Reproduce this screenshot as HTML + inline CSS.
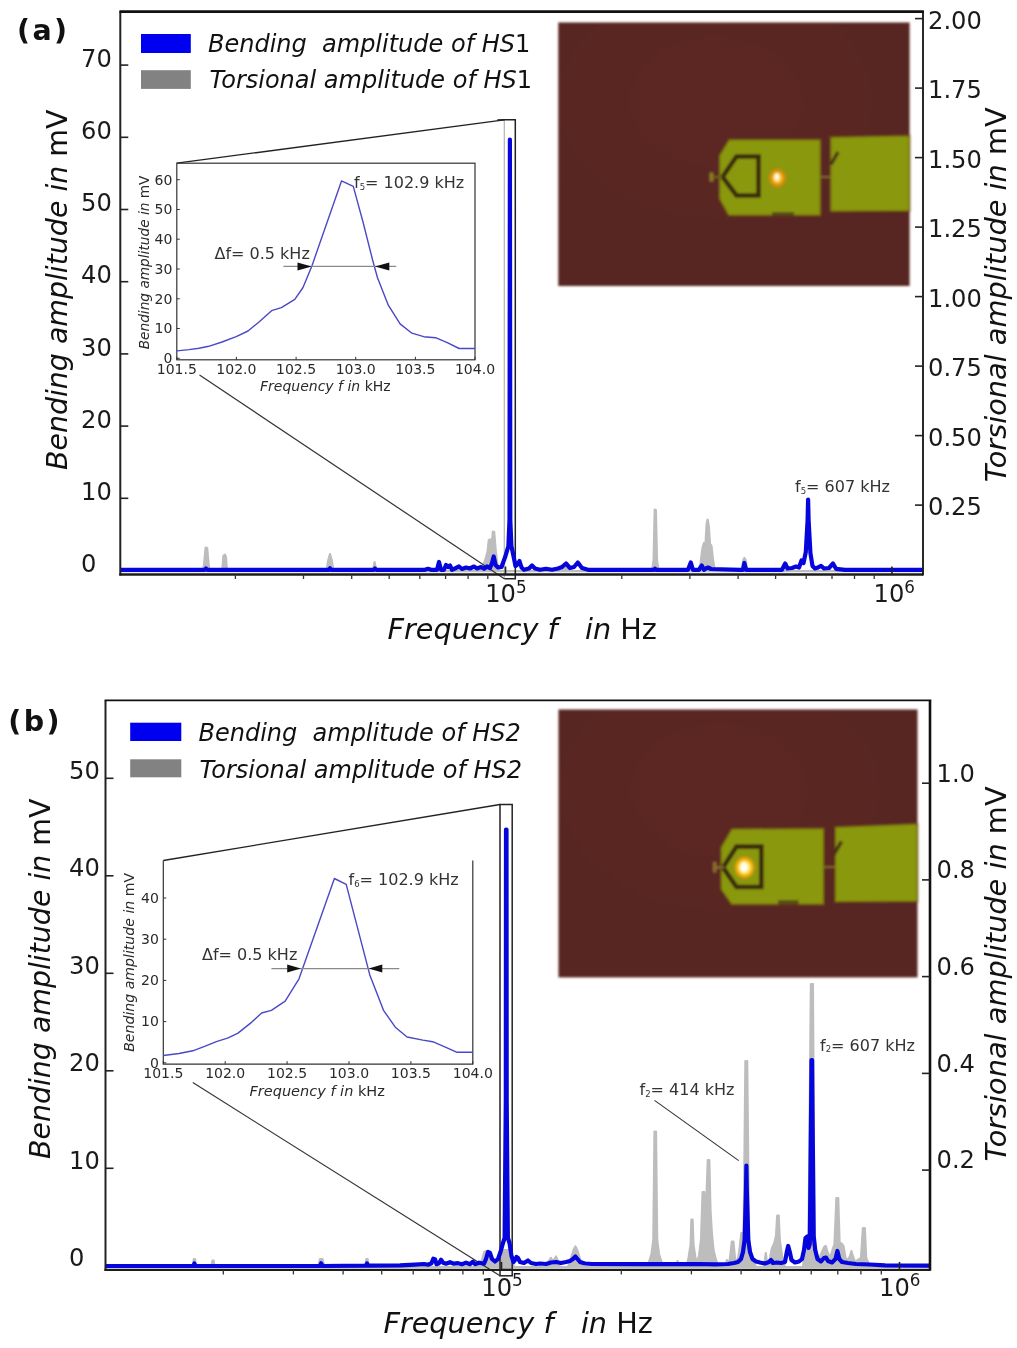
<!DOCTYPE html>
<html><head><meta charset="utf-8"><title>Figure</title>
<style>
html,body{margin:0;padding:0;background:#fff;}
svg{display:block;font-family:"DejaVu Sans","Liberation Sans",sans-serif;}
.i{font-style:italic;}
.b{font-weight:bold;}
.tk{font-size:24.2px;fill:#1a1a1a;}
.lab{fill:#111;}
.leg{font-size:24px;fill:#111;}
.ann{font-size:16px;fill:#333;}
.itk{font-size:14px;fill:#2a2a2a;}
.ilab{fill:#2a2a2a;}
</style></head><body>
<svg width="1017" height="1348" viewBox="0 0 1017 1348">
<defs>
<radialGradient id="glow"><stop offset="0" stop-color="#fff3b0"/><stop offset="0.28" stop-color="#ffd030"/><stop offset="0.55" stop-color="#ee9a10" stop-opacity="0.95"/><stop offset="0.8" stop-color="#c8860c" stop-opacity="0.6"/><stop offset="1" stop-color="#a88a0c" stop-opacity="0"/></radialGradient>
<radialGradient id="glowB"><stop offset="0" stop-color="#ffffe6"/><stop offset="0.3" stop-color="#fff49a"/><stop offset="0.5" stop-color="#ffd428"/><stop offset="0.72" stop-color="#eaa010" stop-opacity="0.9"/><stop offset="1" stop-color="#a88a0c" stop-opacity="0"/></radialGradient>
<radialGradient id="vig" cx="0.45" cy="0.3" r="0.8"><stop offset="0" stop-color="#5c2822"/><stop offset="1" stop-color="#582521"/></radialGradient>
<filter id="bl" x="-5%" y="-5%" width="110%" height="110%"><feGaussianBlur stdDeviation="1.1"/></filter>
</defs>
<rect width="1017" height="1348" fill="#fff"/>

<g filter="url(#bl)">
<rect x="558.3" y="22.5" width="351.30000000000007" height="263.5" fill="url(#vig)"/>
<path d="M719.3,155.5 L729,139.5 L820.6,139.5 L820.6,215.5 L728.5,215.5 L719.3,199 Z" fill="#8a980c"/>
<path d="M830.4,137 L909.6,135.5 L909.6,211 L830.4,211.5 Z" fill="#8a980c"/>
<path d="M830.4,137 L909.6,135.5 L909.6,211 L830.4,211.5 Z M719.3,155.5 L729,139.5 L820.6,139.5 L820.6,215.5 L728.5,215.5 L719.3,199 Z" fill="none" stroke="#6a4a14" stroke-width="2" stroke-opacity="0.6"/>
<path d="M722.5,177 L736.5,156.5 L758.5,156.5 L758.5,195.5 L736.5,195.5 Z" fill="none" stroke="#3a2c10" stroke-width="4.6" stroke-linejoin="miter"/>
<rect x="709.5" y="172.5" width="4" height="9" fill="#8a7a20"/>
<line x1="713" y1="177" x2="722" y2="177" stroke="#6a6418" stroke-width="2"/>
<path d="M838,152 L831,164.5" stroke="#4a3016" stroke-width="3.5"/>
<rect x="772" y="212" width="22" height="4" fill="#4a3016" opacity="0.7"/>
<rect x="820" y="176" width="11" height="2" fill="#8a8030" opacity="0.7"/>
<ellipse cx="777.3" cy="178" rx="10.5" ry="11.5" fill="url(#glow)"/>
<ellipse cx="776.8" cy="177" rx="2.4" ry="3.8" fill="#fffbe0"/>
</g>
<path d="M120.5,571.2 L203.2,571.2 L204.5,560.0 L205.6,547.5 L207.2,548.0 L208.3,561.0 L209.5,571.2 L222.3,571.2 L223.4,556.0 L224.8,554.6 L226.0,557.0 L227.0,571.2 L326.5,571.2 L328.3,560.0 L330.0,554.0 L331.7,560.0 L333.5,571.2 L372.8,571.2 L374.6,562.0 L376.4,571.2 L480.0,571.2 L483.0,566.0 L485.5,559.0 L487.5,552.0 L488.8,540.0 L490.5,539.5 L491.8,545.0 L492.8,531.5 L494.2,532.0 L495.5,548.0 L497.0,562.0 L499.0,571.2 L560.0,571.2 L566.0,566.0 L572.0,571.2 L652.0,571.2 L653.6,560.0 L654.7,509.5 L655.9,510.0 L657.0,560.0 L658.6,571.2 L698.0,571.2 L700.5,564.0 L702.5,548.0 L704.0,543.0 L705.5,544.0 L706.6,524.0 L707.6,519.5 L708.8,526.0 L710.0,544.0 L711.5,546.0 L713.0,560.0 L715.0,571.2 L741.5,571.2 L743.3,560.0 L744.4,558.0 L745.6,560.0 L747.3,571.2 L922.5,571.2 Z" fill="#bdbdbd" stroke="#bdbdbd" stroke-width="2.2" stroke-linejoin="round"/>
<line x1="504.3" y1="119.8" x2="504.3" y2="578.8" stroke="#b4b4b0" stroke-width="1.2"/>
<path d="M497.3,120.1 L504.3,119.8 L515.3,119.8 L515.3,578.8 L504.3,578.8" fill="none" stroke="#222" stroke-width="1.5"/>
<line x1="176.8" y1="163.2" x2="504.3" y2="119.8" stroke="#222" stroke-width="1.3"/>
<line x1="199.5" y1="375.0" x2="504.3" y2="578.8" stroke="#333" stroke-width="1.2"/>
<g stroke="#0606dc" stroke-width="4.2" fill="none" stroke-linejoin="round" stroke-linecap="butt">
<path d="M120.5,569.8 L205.0,569.8 L206.0,568.5 L207.0,569.8 L329.0,569.8 L330.0,568.3 L331.0,569.8 L374.0,569.8 L375.0,568.5 L376.0,569.8 L425.0,569.8 L428.0,568.8 L431.0,569.8 L437.0,569.8 L439.0,562.0 L441.0,569.8 L444.0,569.8 L446.0,565.0 L448.0,567.0 L450.0,565.5 L452.0,569.8 L456.0,568.0 L459.0,566.5 L462.0,569.0 L466.0,567.5 L470.0,568.5 L474.0,566.5 L477.0,568.5 L481.0,567.0 L484.0,568.8 L487.0,566.5 L490.0,568.0 L492.0,563.0 L493.7,556.5 L495.5,565.0 L498.0,567.5 L501.5,567.0 L505.5,556.0 L508.4,546.0 L509.5,520.0 L509.9,139.5 L510.3,520.0 L511.4,546.0 L513.5,556.0 L515.5,566.0 L517.0,565.0 L519.5,561.0 L521.5,567.5 L524.0,569.8 L529.0,568.5 L532.0,565.5 L535.0,568.5 L540.0,569.8 L546.0,568.8 L552.0,569.8 L558.0,568.5 L562.0,567.0 L566.0,563.5 L570.0,568.0 L574.0,567.0 L577.8,562.5 L582.0,568.0 L588.0,569.8 L620.0,569.8 L654.0,569.8 L655.0,568.8 L656.0,569.8 L688.0,569.8 L690.8,562.5 L693.0,569.8 L699.0,569.8 L701.7,565.5 L704.0,569.8 L706.0,568.5 L708.0,567.5 L711.0,569.0 L740.0,569.8 L743.0,569.8 L744.4,563.0 L746.0,569.8 L782.0,569.8 L785.2,563.5 L787.5,568.5 L792.0,568.0 L796.0,566.5 L799.0,567.5 L801.5,560.5 L803.5,563.0 L805.8,552.0 L807.6,520.0 L808.1,499.5 L808.6,520.0 L810.4,553.0 L812.5,566.0 L815.0,568.5 L818.0,567.5 L821.0,565.8 L824.0,568.5 L829.0,568.0 L833.0,563.5 L836.0,568.8 L845.0,569.8 L922.5,569.8" fill="none" />
</g>
<line x1="120.3" y1="11.6" x2="120.3" y2="575.6" stroke="#222" stroke-width="2"/>
<line x1="119.3" y1="574.5" x2="923" y2="574.5" stroke="#1c1c1c" stroke-width="2.3"/>
<line x1="119.39999999999999" y1="11.6" x2="923.9" y2="11.6" stroke="#111" stroke-width="2.8"/>
<line x1="923" y1="11.6" x2="923" y2="575.4" stroke="#111" stroke-width="1.8"/>
<line x1="120.3" y1="498.3" x2="128.3" y2="498.3" stroke="#222" stroke-width="1.6"/>
<line x1="120.3" y1="426.1" x2="128.3" y2="426.1" stroke="#222" stroke-width="1.6"/>
<line x1="120.3" y1="353.9" x2="128.3" y2="353.9" stroke="#222" stroke-width="1.6"/>
<line x1="120.3" y1="281.7" x2="128.3" y2="281.7" stroke="#222" stroke-width="1.6"/>
<line x1="120.3" y1="209.5" x2="128.3" y2="209.5" stroke="#222" stroke-width="1.6"/>
<line x1="120.3" y1="137.3" x2="128.3" y2="137.3" stroke="#222" stroke-width="1.6"/>
<line x1="120.3" y1="65.1" x2="128.3" y2="65.1" stroke="#222" stroke-width="1.6"/>
<line x1="915" y1="505.1" x2="923" y2="505.1" stroke="#222" stroke-width="1.6"/>
<line x1="915" y1="435.6" x2="923" y2="435.6" stroke="#222" stroke-width="1.6"/>
<line x1="915" y1="366.1" x2="923" y2="366.1" stroke="#222" stroke-width="1.6"/>
<line x1="915" y1="296.6" x2="923" y2="296.6" stroke="#222" stroke-width="1.6"/>
<line x1="915" y1="227.1" x2="923" y2="227.1" stroke="#222" stroke-width="1.6"/>
<line x1="915" y1="157.6" x2="923" y2="157.6" stroke="#222" stroke-width="1.6"/>
<line x1="915" y1="88.1" x2="923" y2="88.1" stroke="#222" stroke-width="1.6"/>
<line x1="915" y1="18.6" x2="923" y2="18.6" stroke="#222" stroke-width="1.6"/>
<line x1="235.4" y1="574.5" x2="235.4" y2="579.0" stroke="#333" stroke-width="1.3"/>
<line x1="621.8" y1="574.5" x2="621.8" y2="579.0" stroke="#333" stroke-width="1.3"/>
<line x1="303.5" y1="574.5" x2="303.5" y2="579.0" stroke="#333" stroke-width="1.3"/>
<line x1="689.9" y1="574.5" x2="689.9" y2="579.0" stroke="#333" stroke-width="1.3"/>
<line x1="351.7" y1="574.5" x2="351.7" y2="579.0" stroke="#333" stroke-width="1.3"/>
<line x1="738.1" y1="574.5" x2="738.1" y2="579.0" stroke="#333" stroke-width="1.3"/>
<line x1="389.2" y1="574.5" x2="389.2" y2="579.0" stroke="#333" stroke-width="1.3"/>
<line x1="775.6" y1="574.5" x2="775.6" y2="579.0" stroke="#333" stroke-width="1.3"/>
<line x1="419.8" y1="574.5" x2="419.8" y2="579.0" stroke="#333" stroke-width="1.3"/>
<line x1="806.2" y1="574.5" x2="806.2" y2="579.0" stroke="#333" stroke-width="1.3"/>
<line x1="445.6" y1="574.5" x2="445.6" y2="579.0" stroke="#333" stroke-width="1.3"/>
<line x1="832.0" y1="574.5" x2="832.0" y2="579.0" stroke="#333" stroke-width="1.3"/>
<line x1="468.1" y1="574.5" x2="468.1" y2="579.0" stroke="#333" stroke-width="1.3"/>
<line x1="854.5" y1="574.5" x2="854.5" y2="579.0" stroke="#333" stroke-width="1.3"/>
<line x1="487.8" y1="574.5" x2="487.8" y2="579.0" stroke="#333" stroke-width="1.3"/>
<line x1="874.2" y1="574.5" x2="874.2" y2="579.0" stroke="#333" stroke-width="1.3"/>
<line x1="505.5" y1="574.5" x2="505.5" y2="566.5" stroke="#222" stroke-width="1.6"/>
<line x1="891.9" y1="574.5" x2="891.9" y2="566.5" stroke="#222" stroke-width="1.6"/>
<text class="tk" x="81" y="571.7">0</text>
<text class="tk" x="81" y="499.9">10</text>
<text class="tk" x="81" y="427.7">20</text>
<text class="tk" x="81" y="355.5">30</text>
<text class="tk" x="81" y="283.3">40</text>
<text class="tk" x="81" y="211.1">50</text>
<text class="tk" x="81" y="138.9">60</text>
<text class="tk" x="81" y="66.7">70</text>
<text class="tk" x="928" y="515.3">0.25</text>
<text class="tk" x="928" y="445.8">0.50</text>
<text class="tk" x="928" y="376.3">0.75</text>
<text class="tk" x="928" y="306.8">1.00</text>
<text class="tk" x="928" y="237.3">1.25</text>
<text class="tk" x="928" y="167.8">1.50</text>
<text class="tk" x="928" y="98.3">1.75</text>
<text class="tk" x="928" y="28.8">2.00</text>
<text class="tk" x="485.2" y="602">10<tspan font-size="16.8px" dy="-9.5" dx="0">5</tspan></text>
<text class="tk" x="873.5" y="602">10<tspan font-size="16.8px" dy="-9.5" dx="0">6</tspan></text>
<text class="lab i" font-size="28.7px" x="387.5" y="638.5" xml:space="preserve">Frequency f   in <tspan font-style="normal">Hz</tspan></text>
<text class="lab i" font-size="28.4px" transform="translate(66.5,470) rotate(-90)">Bending amplitude in <tspan font-style="normal">mV</tspan></text>
<text class="lab i" font-size="28.8px" transform="translate(1006.3,482.3) rotate(-90)">Torsional amplitude in <tspan font-style="normal">mV</tspan></text>
<text class="b" font-size="28.5px" letter-spacing="2.4" fill="#111" x="17" y="39.5">(a)</text>
<rect x="141" y="34" width="49.80000000000001" height="19" fill="#0000f0"/>
<rect x="141" y="70.2" width="49.80000000000001" height="18.700000000000003" fill="#828282"/>
<text class="leg i" x="208" y="52.2" xml:space="preserve">Bending  amplitude of HS<tspan font-style="normal">1</tspan></text>
<text class="leg i" x="209.5" y="88.1">Torsional amplitude of HS<tspan font-style="normal">1</tspan></text>
<g>
<rect x="176.8" y="163.2" width="298.2" height="196.60000000000002" fill="none" stroke="#333" stroke-width="1.2"/>
<path d="M176.8,350.9 L189.0,349.6 L199.0,348.2 L208.7,346.3 L222.0,342.0 L236.2,336.7 L248.0,331.0 L259.0,322.0 L271.6,310.7 L281.4,307.6 L294.8,299.3 L303.0,287.5 L311.9,265.9 L341.5,180.9 L353.3,186.4 L363.0,222.0 L372.6,260.0 L377.5,277.7 L388.3,305.2 L400.1,323.9 L411.9,333.2 L423.7,336.7 L435.5,337.7 L447.3,342.6 L459.1,348.5 L475.0,348.5" fill="none" stroke="#4a48c4" stroke-width="1.4" stroke-linejoin="round"/>
<line x1="176.8" y1="358.3" x2="179.8" y2="358.3" stroke="#333" stroke-width="1"/>
<text class="itk" text-anchor="end" x="172.3" y="363.1">0</text>
<line x1="176.8" y1="328.5" x2="179.8" y2="328.5" stroke="#333" stroke-width="1"/>
<text class="itk" text-anchor="end" x="172.3" y="333.3">10</text>
<line x1="176.8" y1="298.8" x2="179.8" y2="298.8" stroke="#333" stroke-width="1"/>
<text class="itk" text-anchor="end" x="172.3" y="303.6">20</text>
<line x1="176.8" y1="269.0" x2="179.8" y2="269.0" stroke="#333" stroke-width="1"/>
<text class="itk" text-anchor="end" x="172.3" y="273.8">30</text>
<line x1="176.8" y1="239.2" x2="179.8" y2="239.2" stroke="#333" stroke-width="1"/>
<text class="itk" text-anchor="end" x="172.3" y="244.0">40</text>
<line x1="176.8" y1="209.5" x2="179.8" y2="209.5" stroke="#333" stroke-width="1"/>
<text class="itk" text-anchor="end" x="172.3" y="214.3">50</text>
<line x1="176.8" y1="179.7" x2="179.8" y2="179.7" stroke="#333" stroke-width="1"/>
<text class="itk" text-anchor="end" x="172.3" y="184.5">60</text>
<line x1="176.8" y1="359.8" x2="176.8" y2="356.8" stroke="#333" stroke-width="1"/>
<text class="itk" text-anchor="middle" x="176.8" y="373.6">101.5</text>
<line x1="236.4" y1="359.8" x2="236.4" y2="356.8" stroke="#333" stroke-width="1"/>
<text class="itk" text-anchor="middle" x="236.4" y="373.6">102.0</text>
<line x1="296.1" y1="359.8" x2="296.1" y2="356.8" stroke="#333" stroke-width="1"/>
<text class="itk" text-anchor="middle" x="296.1" y="373.6">102.5</text>
<line x1="355.7" y1="359.8" x2="355.7" y2="356.8" stroke="#333" stroke-width="1"/>
<text class="itk" text-anchor="middle" x="355.7" y="373.6">103.0</text>
<line x1="415.4" y1="359.8" x2="415.4" y2="356.8" stroke="#333" stroke-width="1"/>
<text class="itk" text-anchor="middle" x="415.4" y="373.6">103.5</text>
<line x1="475.0" y1="359.8" x2="475.0" y2="356.8" stroke="#333" stroke-width="1"/>
<text class="itk" text-anchor="middle" x="475.0" y="373.6">104.0</text>
<text class="ilab i" font-size="14.0px" x="260" y="390.8">Frequency f in <tspan font-style="normal">kHz</tspan></text>
<text class="i" font-size="13.7px" fill="#2a2a2a" transform="translate(148.5,349.3) rotate(-90)">Bending amplitude in <tspan font-style="normal">mV</tspan></text>
<line x1="283.4" y1="266.4" x2="396.2" y2="266.4" stroke="#8a8a8a" stroke-width="1.1"/>
<path d="M311.7,266.4 L297.5,262.4 L297.5,270.4 Z M375,266.4 L389.3,262.4 L389.3,270.4 Z" fill="#111"/>
<text class="ann" x="354" y="188.3">f<tspan font-size="8.5px" dy="1.5">5</tspan><tspan dy="-1.5">= </tspan>102.9 kHz</text>
<text class="ann" x="214.5" y="258.8">Δf= 0.5 kHz</text>
<text class="ann" x="795" y="492.3">f<tspan font-size="8.5px" dy="1.5">5</tspan><tspan dy="-1.5">= </tspan>607 kHz</text>
</g>
<g filter="url(#bl)">
<rect x="558.5" y="709.5" width="359.0" height="267.9" fill="url(#vig)"/>
<path d="M720.8,847.5 L731.7,828.8 L823.9,828.3 L823.9,904.5 L731.5,904.5 L720.8,889.3 Z" fill="#8a980c"/>
<path d="M835,827 L917.5,823.7 L917.5,901.5 L835,902 Z" fill="#8a980c"/>
<path d="M835,827 L917.5,823.7 L917.5,901.5 L835,902 Z M720.8,847.5 L731.7,828.8 L823.9,828.3 L823.9,904.5 L731.5,904.5 L720.8,889.3 Z" fill="none" stroke="#6a4a14" stroke-width="2" stroke-opacity="0.6"/>
<path d="M723,867.4 L736.5,846.6 L761.3,846.6 L761.3,887 L736.5,887 Z" fill="none" stroke="#3a2c10" stroke-width="4.6"/>
<rect x="713" y="862" width="3.5" height="10.5" fill="#8a6a30"/>
<line x1="716" y1="867.4" x2="724" y2="867.4" stroke="#8a7a30" stroke-width="2"/>
<path d="M841.5,841.5 L833.5,855" stroke="#4a3016" stroke-width="3.5"/>
<rect x="778" y="900" width="20.5" height="5" fill="#4a3016" opacity="0.7"/>
<rect x="823.5" y="866" width="12" height="2" fill="#8a8030" opacity="0.7"/>
<ellipse cx="744.6" cy="867.5" rx="12" ry="13" fill="url(#glowB)"/>
<ellipse cx="743.9" cy="867.2" rx="3.6" ry="5" fill="#fffdf0"/>
</g>
<path d="M105.5,1267.0 L193.0,1267.0 L193.8,1259.0 L195.0,1259.0 L195.8,1267.0 L211.5,1267.0 L212.4,1260.5 L213.6,1260.5 L214.5,1267.0 L318.0,1267.0 L320.0,1259.0 L322.4,1259.0 L324.5,1267.0 L365.5,1267.0 L366.4,1259.0 L367.6,1259.0 L368.5,1267.0 L478.0,1267.0 L482.0,1260.0 L484.3,1252.0 L486.5,1251.0 L488.0,1257.0 L496.0,1262.0 L500.0,1258.0 L503.0,1250.0 L509.0,1250.0 L512.0,1258.0 L514.0,1267.0 L546.0,1267.0 L549.5,1260.0 L551.0,1258.0 L552.5,1261.0 L554.5,1259.0 L556.0,1256.5 L557.5,1260.0 L560.0,1267.0 L568.0,1267.0 L571.0,1258.0 L573.5,1250.0 L575.4,1246.5 L577.3,1250.0 L580.0,1259.0 L583.0,1267.0 L645.0,1267.0 L649.0,1262.0 L651.5,1254.0 L653.3,1240.0 L654.5,1131.5 L656.0,1131.5 L657.2,1240.0 L659.0,1254.0 L661.5,1262.0 L664.0,1267.0 L676.0,1267.0 L677.5,1261.0 L679.0,1267.0 L686.5,1267.0 L688.5,1258.0 L690.6,1245.0 L691.4,1219.5 L692.6,1219.5 L693.5,1245.0 L695.5,1258.0 L697.0,1262.0 L699.0,1256.0 L701.0,1240.0 L702.6,1192.0 L704.2,1192.0 L705.3,1215.0 L706.3,1200.0 L707.8,1160.0 L709.3,1160.0 L710.5,1210.0 L711.8,1232.0 L713.5,1250.0 L716.0,1260.0 L719.0,1267.0 L725.0,1267.0 L727.0,1260.0 L728.5,1267.0 L730.0,1258.0 L731.8,1241.5 L733.4,1241.5 L735.0,1258.0 L737.5,1262.0 L739.5,1250.0 L741.3,1233.0 L742.6,1233.0 L743.6,1240.0 L745.4,1061.0 L747.2,1061.0 L749.0,1240.0 L752.0,1258.0 L756.0,1267.0 L764.0,1267.0 L765.8,1253.0 L767.5,1267.0 L770.0,1258.0 L772.0,1248.0 L774.0,1244.0 L776.0,1236.0 L777.2,1215.5 L778.7,1215.5 L779.8,1240.0 L782.0,1256.0 L785.0,1267.0 L803.0,1267.0 L806.0,1240.0 L808.5,1236.0 L810.9,984.0 L812.9,984.0 L814.5,1240.0 L817.0,1256.0 L819.5,1258.0 L822.0,1252.0 L824.2,1247.0 L825.8,1246.0 L827.5,1252.0 L830.0,1258.0 L832.5,1250.0 L834.5,1244.0 L836.4,1198.0 L838.2,1198.0 L839.6,1242.0 L841.4,1243.5 L843.5,1246.0 L845.5,1258.0 L848.0,1260.0 L850.0,1256.0 L851.4,1251.0 L852.8,1256.0 L855.0,1262.0 L858.0,1260.0 L861.0,1258.0 L862.9,1228.0 L864.8,1228.0 L866.2,1258.0 L868.0,1262.0 L871.0,1267.0 L930.0,1267.0 Z" fill="#bdbdbd" stroke="#bdbdbd" stroke-width="2.2" stroke-linejoin="round"/>
<path d="M500.6,1269 L500.6,1258 L503,1251 L509.5,1251 L511.6,1258 L511.6,1269 Z" fill="#b9b9b9"/>
<rect x="500" y="804.5" width="12.200000000000045" height="471.29999999999995" fill="none" stroke="#222" stroke-width="1.5"/>
<line x1="163.3" y1="860.5" x2="500" y2="804.5" stroke="#222" stroke-width="1.3"/>
<line x1="192.8" y1="1082.6" x2="500" y2="1275.8" stroke="#333" stroke-width="1.2"/>
<g stroke="#0606dc" stroke-width="4.2" fill="none" stroke-linejoin="round" stroke-linecap="butt">
<path d="M105.5,1266.0 L193.5,1266.0 L194.4,1263.5 L195.3,1266.0 L320.0,1266.0 L321.2,1263.3 L322.5,1266.0 L366.0,1265.6 L367.0,1263.5 L368.0,1265.6 L400.0,1265.4 L415.0,1264.6 L424.0,1264.0 L428.0,1264.7 L431.5,1263.2 L433.3,1258.7 L435.0,1259.2 L436.5,1264.2 L439.0,1263.2 L441.0,1259.7 L443.0,1262.7 L446.0,1263.7 L450.0,1262.2 L454.0,1263.7 L458.0,1263.2 L462.0,1264.2 L466.0,1262.7 L470.0,1264.2 L473.0,1261.7 L475.0,1264.2 L479.0,1262.7 L482.0,1263.2 L484.0,1263.7 L486.0,1259.0 L488.0,1252.0 L490.0,1253.0 L492.0,1259.0 L495.0,1261.5 L498.0,1259.0 L500.5,1252.0 L503.0,1243.0 L504.6,1238.0 L505.8,1100.0 L506.0,829.5 L506.5,829.5 L506.7,1100.0 L507.9,1238.0 L509.5,1243.0 L511.5,1256.0 L513.5,1262.0 L515.0,1260.0 L516.5,1257.0 L518.0,1258.0 L520.0,1262.0 L524.0,1263.0 L528.0,1260.5 L531.0,1263.0 L536.0,1264.0 L540.0,1263.5 L546.0,1264.0 L551.0,1262.5 L556.0,1262.0 L561.0,1263.0 L566.0,1262.0 L570.0,1261.0 L573.0,1259.0 L575.4,1256.5 L577.5,1259.0 L580.0,1262.0 L585.0,1263.5 L592.0,1264.0 L640.0,1264.2 L690.0,1264.2 L700.0,1264.0 L715.0,1264.3 L728.0,1264.0 L734.0,1263.0 L738.0,1262.0 L741.0,1259.0 L743.0,1252.0 L744.6,1240.0 L746.0,1190.0 L746.4,1165.5 L746.8,1190.0 L748.3,1240.0 L750.0,1252.0 L752.5,1259.0 L756.0,1261.5 L760.0,1262.5 L765.0,1263.5 L769.0,1262.0 L771.0,1260.0 L773.0,1263.0 L777.0,1262.5 L781.0,1263.0 L785.0,1262.0 L786.8,1252.0 L788.2,1246.0 L789.8,1252.0 L791.5,1260.0 L795.0,1262.5 L799.0,1261.5 L802.0,1259.0 L804.0,1250.0 L805.5,1238.0 L807.2,1236.5 L808.6,1248.0 L809.8,1244.0 L811.2,1100.0 L811.5,1060.0 L812.1,1060.0 L812.4,1100.0 L813.7,1236.0 L815.2,1250.0 L817.5,1259.0 L821.0,1261.5 L824.0,1258.0 L826.0,1257.5 L828.0,1261.0 L832.0,1262.5 L835.5,1259.0 L837.4,1251.0 L839.3,1259.0 L842.0,1262.0 L848.0,1263.0 L856.0,1264.0 L870.0,1264.5 L885.0,1265.3 L930.0,1265.6" fill="none" />
</g>
<line x1="105.5" y1="700.4" x2="105.5" y2="1271.0" stroke="#222" stroke-width="2"/>
<line x1="104.5" y1="1269.9" x2="930" y2="1269.9" stroke="#1c1c1c" stroke-width="2.3"/>
<line x1="104.6" y1="700.4" x2="931.3" y2="700.4" stroke="#111" stroke-width="1.7"/>
<line x1="930" y1="700.4" x2="930" y2="1270.8000000000002" stroke="#111" stroke-width="2.6"/>
<line x1="105.5" y1="1168.3" x2="113.5" y2="1168.3" stroke="#222" stroke-width="1.6"/>
<line x1="105.5" y1="1070.8" x2="113.5" y2="1070.8" stroke="#222" stroke-width="1.6"/>
<line x1="105.5" y1="973.3" x2="113.5" y2="973.3" stroke="#222" stroke-width="1.6"/>
<line x1="105.5" y1="875.8" x2="113.5" y2="875.8" stroke="#222" stroke-width="1.6"/>
<line x1="105.5" y1="778.3" x2="113.5" y2="778.3" stroke="#222" stroke-width="1.6"/>
<line x1="922" y1="1170.1" x2="930" y2="1170.1" stroke="#222" stroke-width="1.6"/>
<line x1="922" y1="1073.4" x2="930" y2="1073.4" stroke="#222" stroke-width="1.6"/>
<line x1="922" y1="976.6" x2="930" y2="976.6" stroke="#222" stroke-width="1.6"/>
<line x1="922" y1="879.9" x2="930" y2="879.9" stroke="#222" stroke-width="1.6"/>
<line x1="922" y1="783.2" x2="930" y2="783.2" stroke="#222" stroke-width="1.6"/>
<line x1="223.3" y1="1269.9" x2="223.3" y2="1274.4" stroke="#333" stroke-width="1.3"/>
<line x1="621.3" y1="1269.9" x2="621.3" y2="1274.4" stroke="#333" stroke-width="1.3"/>
<line x1="293.4" y1="1269.9" x2="293.4" y2="1274.4" stroke="#333" stroke-width="1.3"/>
<line x1="691.4" y1="1269.9" x2="691.4" y2="1274.4" stroke="#333" stroke-width="1.3"/>
<line x1="343.1" y1="1269.9" x2="343.1" y2="1274.4" stroke="#333" stroke-width="1.3"/>
<line x1="741.1" y1="1269.9" x2="741.1" y2="1274.4" stroke="#333" stroke-width="1.3"/>
<line x1="381.7" y1="1269.9" x2="381.7" y2="1274.4" stroke="#333" stroke-width="1.3"/>
<line x1="779.7" y1="1269.9" x2="779.7" y2="1274.4" stroke="#333" stroke-width="1.3"/>
<line x1="413.2" y1="1269.9" x2="413.2" y2="1274.4" stroke="#333" stroke-width="1.3"/>
<line x1="811.2" y1="1269.9" x2="811.2" y2="1274.4" stroke="#333" stroke-width="1.3"/>
<line x1="439.8" y1="1269.9" x2="439.8" y2="1274.4" stroke="#333" stroke-width="1.3"/>
<line x1="837.8" y1="1269.9" x2="837.8" y2="1274.4" stroke="#333" stroke-width="1.3"/>
<line x1="462.9" y1="1269.9" x2="462.9" y2="1274.4" stroke="#333" stroke-width="1.3"/>
<line x1="860.9" y1="1269.9" x2="860.9" y2="1274.4" stroke="#333" stroke-width="1.3"/>
<line x1="483.3" y1="1269.9" x2="483.3" y2="1274.4" stroke="#333" stroke-width="1.3"/>
<line x1="881.3" y1="1269.9" x2="881.3" y2="1274.4" stroke="#333" stroke-width="1.3"/>
<line x1="501.5" y1="1269.9" x2="501.5" y2="1261.9" stroke="#222" stroke-width="1.6"/>
<line x1="899.5" y1="1269.9" x2="899.5" y2="1261.9" stroke="#222" stroke-width="1.6"/>
<text class="tk" x="69" y="1266">0</text>
<text class="tk" x="69" y="1168.9">10</text>
<text class="tk" x="69" y="1071.4">20</text>
<text class="tk" x="69" y="973.9">30</text>
<text class="tk" x="69" y="876.4">40</text>
<text class="tk" x="69" y="778.9">50</text>
<text class="tk" x="936.5" y="1168.4">0.2</text>
<text class="tk" x="936.5" y="1071.7">0.4</text>
<text class="tk" x="936.5" y="974.9">0.6</text>
<text class="tk" x="936.5" y="878.2">0.8</text>
<text class="tk" x="936.5" y="781.5">1.0</text>
<text class="tk" x="481.3" y="1295.5">10<tspan font-size="16.8px" dy="-9.5" dx="0">5</tspan></text>
<text class="tk" x="879" y="1295.5">10<tspan font-size="16.8px" dy="-9.5" dx="0">6</tspan></text>
<text class="lab i" font-size="28.7px" x="383.4" y="1333" xml:space="preserve">Frequency f   in <tspan font-style="normal">Hz</tspan></text>
<text class="lab i" font-size="28.4px" transform="translate(49.9,1159) rotate(-90)">Bending amplitude in <tspan font-style="normal">mV</tspan></text>
<text class="lab i" font-size="28.8px" transform="translate(1005.7,1161.4) rotate(-90)">Torsional amplitude in <tspan font-style="normal">mV</tspan></text>
<text class="b" font-size="28.5px" letter-spacing="2.4" fill="#111" x="8.3" y="730.5">(b)</text>
<rect x="130.2" y="722.7" width="51.10000000000002" height="18.299999999999955" fill="#0000f0"/>
<rect x="130.2" y="759.3" width="51.10000000000002" height="18.0" fill="#828282"/>
<text class="leg i" x="198.5" y="741.3" xml:space="preserve">Bending  amplitude of HS2</text>
<text class="leg i" x="199.5" y="777.7">Torsional amplitude of HS2</text>
<g>
<path d="M163.3,860.5 L163.3,1064.1 L472.8,1064.1 L472.8,860.5" fill="none" stroke="#333" stroke-width="1.2"/>
<path d="M163.3,1055.5 L179.0,1053.5 L192.8,1050.8 L204.6,1046.4 L216.4,1041.7 L228.2,1037.8 L238.0,1033.1 L251.8,1022.1 L261.6,1013.0 L271.4,1010.3 L285.2,1001.2 L299.0,978.8 L334.4,878.5 L346.2,884.4 L369.8,974.9 L383.5,1010.3 L395.3,1027.2 L407.1,1037.0 L422.9,1040.1 L432.7,1041.7 L446.5,1047.6 L457.1,1052.3 L472.8,1052.3" fill="none" stroke="#4a48c4" stroke-width="1.4" stroke-linejoin="round"/>
<line x1="163.3" y1="1062.8" x2="166.3" y2="1062.8" stroke="#333" stroke-width="1"/>
<text class="itk" text-anchor="end" x="158.8" y="1067.6">0</text>
<line x1="163.3" y1="1021.6" x2="166.3" y2="1021.6" stroke="#333" stroke-width="1"/>
<text class="itk" text-anchor="end" x="158.8" y="1026.4">10</text>
<line x1="163.3" y1="980.4" x2="166.3" y2="980.4" stroke="#333" stroke-width="1"/>
<text class="itk" text-anchor="end" x="158.8" y="985.1999999999999">20</text>
<line x1="163.3" y1="939.2" x2="166.3" y2="939.2" stroke="#333" stroke-width="1"/>
<text class="itk" text-anchor="end" x="158.8" y="944.0">30</text>
<line x1="163.3" y1="898.0" x2="166.3" y2="898.0" stroke="#333" stroke-width="1"/>
<text class="itk" text-anchor="end" x="158.8" y="902.8">40</text>
<line x1="163.3" y1="1064.1" x2="163.3" y2="1061.1" stroke="#333" stroke-width="1"/>
<text class="itk" text-anchor="middle" x="163.3" y="1077.8999999999999">101.5</text>
<line x1="225.2" y1="1064.1" x2="225.2" y2="1061.1" stroke="#333" stroke-width="1"/>
<text class="itk" text-anchor="middle" x="225.2" y="1077.8999999999999">102.0</text>
<line x1="287.1" y1="1064.1" x2="287.1" y2="1061.1" stroke="#333" stroke-width="1"/>
<text class="itk" text-anchor="middle" x="287.1" y="1077.8999999999999">102.5</text>
<line x1="349.0" y1="1064.1" x2="349.0" y2="1061.1" stroke="#333" stroke-width="1"/>
<text class="itk" text-anchor="middle" x="349.0" y="1077.8999999999999">103.0</text>
<line x1="410.9" y1="1064.1" x2="410.9" y2="1061.1" stroke="#333" stroke-width="1"/>
<text class="itk" text-anchor="middle" x="410.9" y="1077.8999999999999">103.5</text>
<line x1="472.8" y1="1064.1" x2="472.8" y2="1061.1" stroke="#333" stroke-width="1"/>
<text class="itk" text-anchor="middle" x="472.8" y="1077.8999999999999">104.0</text>
<text class="ilab i" font-size="14.5px" x="249.5" y="1096">Frequency f in <tspan font-style="normal">kHz</tspan></text>
<text class="i" font-size="14.1px" fill="#2a2a2a" transform="translate(134.2,1051.8) rotate(-90)">Bending amplitude in <tspan font-style="normal">mV</tspan></text>
<line x1="271.4" y1="968.6" x2="399.3" y2="968.6" stroke="#8a8a8a" stroke-width="1.1"/>
<path d="M300.9,968.6 L287.2,964.6 L287.2,972.6 Z M368.6,968.6 L382.3,964.6 L382.3,972.6 Z" fill="#111"/>
<text class="ann" x="348.5" y="885.2">f<tspan font-size="8.5px" dy="1.5">6</tspan><tspan dy="-1.5">= </tspan>102.9 kHz</text>
<text class="ann" x="202" y="960.3">Δf= 0.5 kHz</text>
<text class="ann" x="820" y="1050.9">f<tspan font-size="8.5px" dy="1.5">2</tspan><tspan dy="-1.5">= </tspan>607 kHz</text>
<text class="ann" x="639.5" y="1095.4">f<tspan font-size="8.5px" dy="1.5">2</tspan><tspan dy="-1.5">= </tspan>414 kHz</text>
<line x1="654.5" y1="1100.4" x2="738.7" y2="1160.6" stroke="#333" stroke-width="1.1"/>
</g>
</svg></body></html>
